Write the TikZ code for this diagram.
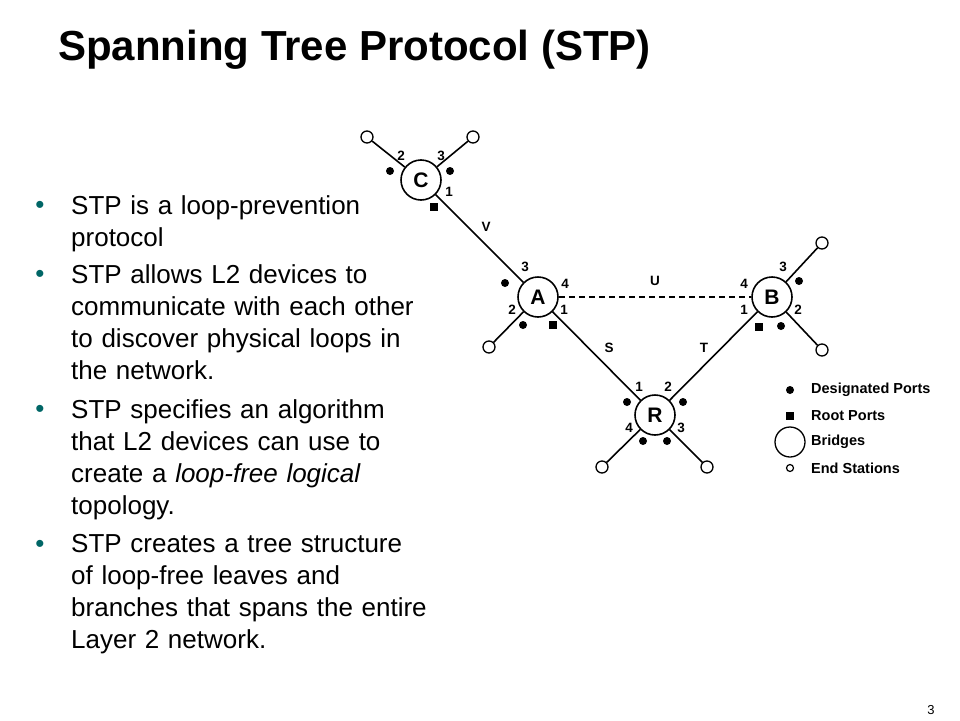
\documentclass[tikz,border=0pt]{standalone}
\usepackage{fontspec}
\setmainfont{Liberation Sans}
\begin{document}
\begin{tikzpicture}[x=1pt,y=-1pt,
  br/.style={circle,draw,line width=1.6pt,minimum size=40pt,inner sep=0pt,font=\bfseries\fontsize{21}{21}\selectfont},
  es/.style={circle,draw,line width=1.3pt,minimum size=12pt,inner sep=0pt},
  lk/.style={line width=1.6pt},
  pl/.style={font=\bfseries\fontsize{13.5}{13.5}\selectfont,inner sep=0pt},
  lg/.style={anchor=west,inner sep=0pt,font=\bfseries\fontsize{14.5}{14.5}\selectfont},
  dp/.style={circle,fill,minimum size=8pt,inner sep=0pt},
  rp/.style={rectangle,fill,minimum size=8.5pt,inner sep=0pt},
  bl/.style={anchor=north west,align=left,text width=400pt,inner sep=0pt,font=\fontsize{26}{32}\selectfont},
  bd/.style={text=teal!80!black,font=\fontsize{26}{26}\selectfont,inner sep=0pt}]
\useasboundingbox (0,0) rectangle (960,720);
\node[anchor=west,font=\bfseries\fontsize{42}{42}\selectfont,inner sep=0pt] (title) at (58,50) {Spanning Tree Protocol (STP)};
% bullets
\node[bd] (d1) at (40,207) {•};
\node[bl] (t1) at (71,195) {STP is a loop-prevention\\protocol};
\node[bd] (d2) at (40,276) {•};
\node[bl] (t2) at (71,264) {STP allows L2 devices to\\communicate with each other\\to discover physical loops in\\the network.};
\node[bd] (d3) at (40,411) {•};
\node[bl] (t3) at (71,399) {STP specifies an algorithm\\that L2 devices can use to\\create a \textit{loop-free logical}\\topology.};
\node[bd] (d4) at (40,546) {•};
\node[bl] (t4) at (71,534) {STP creates a tree structure\\of loop-free leaves and\\branches that spans the entire\\Layer 2 network.};
% bridges
\node[br] (C) at (421,180) {C};
\node[br] (A) at (538,297) {A};
\node[br] (B) at (772,297) {B};
\node[br] (R) at (655,415) {R};
% end stations
\node[es] (c2) at (367,137) {};
\node[es] (c3) at (473,137) {};
\node[es] (a2) at (489,347) {};
\node[es] (b3) at (822,243) {};
\node[es] (b2) at (822,350) {};
\node[es] (r4) at (602,467) {};
\node[es] (r3) at (707,467) {};
\draw[lk] (C)--(c2) (C)--(c3) (A)--(a2) (B)--(b3) (B)--(b2) (R)--(r4) (R)--(r3);
\draw[lk] (C)--(A) (A)--(R) (R)--(B);
\draw[lk,dash pattern=on 6pt off 4pt] (A)--(B);
% link labels
\node[pl] (lv) at (486,227) {V};
\node[pl] (lu) at (655,281) {U};
\node[pl] (ls) at (609,348) {S};
\node[pl] (lt) at (704,348) {T};
% port labels
\node[pl] (pc2) at (401,156) {2};
\node[pl] (pc3) at (441,156) {3};
\node[pl] (pc1) at (449,192) {1};
\node[pl] (pa3) at (525,267) {3};
\node[pl] (pa4) at (565,284) {4};
\node[pl] (pa2) at (512,310) {2};
\node[pl] (pa1) at (564,310) {1};
\node[pl] (pb4) at (744,284) {4};
\node[pl] (pb3) at (783,267) {3};
\node[pl] (pb1) at (744,310) {1};
\node[pl] (pb2) at (798,310) {2};
\node[pl] (pr1) at (639,387) {1};
\node[pl] (pr2) at (668,387) {2};
\node[pl] (pr4) at (629,428) {4};
\node[pl] (pr3) at (681,428) {3};
% port marks
\node[dp] (mc2) at (390,171) {};
\node[dp] (mc3) at (450,171) {};
\node[rp] (mc1) at (434,207) {};
\node[dp] (ma3) at (505,283) {};
\node[dp] (ma2) at (523,325) {};
\node[rp] (ma1) at (553,325) {};
\node[dp] (mb3) at (799,281) {};
\node[rp] (mb1) at (759,327) {};
\node[dp] (mb2) at (781,326) {};
\node[dp] (mr1) at (627,402) {};
\node[dp] (mr2) at (683,402) {};
\node[dp] (mr4) at (643,441) {};
\node[dp] (mr3) at (667,441) {};
% legend
\node[dp] (ld) at (790,390) {};
\node[rp] (lr) at (790,416) {};
\node[circle,draw,line width=1.3pt,minimum size=30pt,inner sep=0pt] (lb) at (790,442) {};
\node[circle,draw,line width=1.2pt,minimum size=7pt,inner sep=0pt] (le) at (790,468) {};
\node[lg] (tld) at (811,390) {Designated Ports};
\node[lg] (tlr) at (811,416) {Root Ports};
\node[lg] (tlb) at (811,442) {Bridges};
\node[lg] (tle) at (811,468) {End Stations};
\node[font=\fontsize{13}{13}\selectfont,inner sep=0pt] (pg) at (931,710) {3};
\end{tikzpicture}
\end{document}
